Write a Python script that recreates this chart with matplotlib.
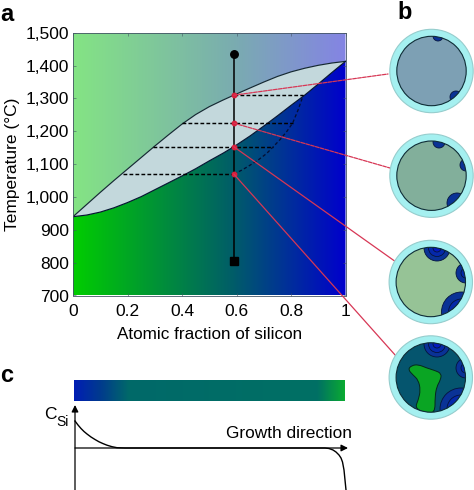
import numpy as np
import matplotlib
matplotlib.use("Agg")
import matplotlib.pyplot as plt
from matplotlib.colors import LinearSegmentedColormap as LSC
from matplotlib.patches import Circle, Polygon, ConnectionPatch, PathPatch
from matplotlib.path import Path

plt.rcParams['font.family'] = ['Liberation Sans', 'DejaVu Sans']
W, H = 474, 490

# Phase diagram
upper_x = [0, 0.05, 0.1, 0.15, 0.2, 0.25, 0.3, 0.35, 0.40, 0.45, 0.5, 0.55, 0.59, 0.65, 0.7, 0.75, 0.8, 0.85, 0.9, 0.95, 1.0]
upper_t = [940, 977, 1014, 1050, 1085, 1120, 1155, 1189, 1222, 1251, 1275, 1295, 1310, 1332, 1350, 1367, 1381, 1392, 1401, 1408, 1413]
lower_x = [0, 0.05, 0.1, 0.15, 0.2, 0.25, 0.3, 0.35, 0.4, 0.45, 0.5, 0.55, 0.59, 0.65, 0.7, 0.75, 0.8, 0.85, 0.9, 0.95, 1.0]
lower_t = [940, 945, 954, 967, 983, 1001, 1022, 1043, 1064, 1086, 1110, 1133, 1153, 1186, 1216, 1247, 1279, 1310, 1344, 1379, 1413]
avg_x = [0.59, 0.62, 0.65, 0.68, 0.71, 0.735, 0.76, 0.785, 0.806, 0.826, 0.845]
avg_t = [1070, 1082, 1097, 1113, 1132, 1153, 1175, 1200, 1225, 1265, 1310]
tie_t = [1310, 1225, 1153, 1070]
tie_x0 = [0.59, 0.40, 0.295, 0.185]
tie_x1 = [0.845, 0.806, 0.735, 0.59]
alloy_x = 0.59
start_t, end_t = 1435, 805
xticks = [0, 0.2, 0.4, 0.6, 0.8, 1]
xlabels = ['0', '0.2', '0.4', '0.6', '0.8', '1']
yticks = [700, 800, 900, 1000, 1100, 1200, 1300, 1400, 1500]
ylabels = ['700', '800', '900', '1,000', '1,100', '1,200', '1,300', '1,400', '1,500']

def c(*rgb):
    return tuple(v / 255 for v in rgb)

cm_solid = LSC.from_list('s', [(0, c(0, 205, 0)), (0.59, c(0, 92, 105)), (1, c(0, 0, 205))])
cm_liquid = LSC.from_list('l', [(0, c(132, 228, 132)), (0.59, c(122, 172, 176)), (1, c(132, 132, 228))])
cm_bar = LSC.from_list('b', [(0, c(0, 30, 180)), (0.1, c(0, 60, 140)), (0.2, c(0, 105, 105)),
                             (0.9, c(0, 112, 100)), (1, c(10, 170, 50))])
grad = np.linspace(0, 1, 256)[None, :]

fig = plt.figure(figsize=(W / 100, H / 100), dpi=100, facecolor='white')
ax = fig.add_axes([73 / W, 1 - 295.5 / H, 272.5 / W, 262.7 / H])
ax.set_xlim(0, 1)
ax.set_ylim(700, 1500)
ext = (0, 1, 700, 1500)

ux = np.array(upper_x); ut = np.array(upper_t)
lx = np.array(lower_x); lt = np.array(lower_t)
im_l = ax.imshow(grad, cmap=cm_liquid, extent=ext, aspect='auto', zorder=1)
im_s = ax.imshow(grad, cmap=cm_solid, extent=ext, aspect='auto', zorder=1)
poly_l = Polygon(np.r_[np.c_[ux, ut], [[1, 1500], [0, 1500]]], closed=True, transform=ax.transData, fc='none', ec='none')
poly_s = Polygon(np.r_[np.c_[lx, lt], [[1, 700], [0, 700]]], closed=True, transform=ax.transData, fc='none', ec='none')
ax.add_patch(poly_l); ax.add_patch(poly_s)
im_l.set_clip_path(poly_l); im_s.set_clip_path(poly_s)
ax.fill(np.r_[ux, lx[::-1]], np.r_[ut, lt[::-1]], color=c(195, 216, 220), lw=0, zorder=1.5)
ax.plot(ux, ut, color=c(20, 40, 50), lw=0.85, zorder=2)
ax.plot(lx, lt, color=c(5, 20, 50), lw=0.85, zorder=2)
ax.plot(avg_x, avg_t, color=c(5, 15, 50), lw=0.95, ls=(0, (2.5, 1.8)), zorder=2)
for t, a, b in zip(tie_t, tie_x0, tie_x1):
    ax.plot([a, b], [t, t], color='black', lw=1.05, ls=(0, (2.6, 1.5)), zorder=3)
ax.plot([alloy_x, alloy_x], [start_t, end_t], color='black', lw=1.1, zorder=4)
ax.plot([alloy_x], [start_t], 'o', color='black', ms=5.4, zorder=5)
ax.plot([alloy_x], [end_t], 's', color='black', ms=5.4, zorder=5)
ax.plot([alloy_x] * 4, tie_t, 'o', color=c(215, 30, 60), ms=3.2, zorder=6)
ax.set_xticks(xticks, xlabels)
ax.set_yticks(yticks, ylabels)
ax.tick_params(direction='in', length=2, width=0.4, labelsize=12.5, top=True, right=True, color='#445566')
ax.tick_params(axis='x', pad=6)
ax.tick_params(axis='y', pad=3)
ax.set_xlabel('Atomic fraction of silicon', fontsize=12.3, labelpad=6)
ax.set_ylabel('Temperature (°C)', fontsize=12.5, labelpad=4)
for s in ax.spines.values():
    s.set_linewidth(0.6); s.set_color('#445566')

# Overlay in pixel coordinates for the schematic parts
ov = fig.add_axes([0, 0, 1, 1], zorder=5)
ov.set_xlim(0, W); ov.set_ylim(H, 0); ov.axis('off'); ov.patch.set_alpha(0)

ov.text(0, 21, 'a', fontsize=17, fontweight='bold', va='baseline')
ov.text(397, 19, 'b', fontsize=17, fontweight='bold', va='baseline')
ov.text(0, 382, 'c', fontsize=17, fontweight='bold', va='baseline')

centers = [(431.5, 71), (431.5, 175.7), (430.8, 282), (430.8, 377.5)]
fills = [c(125, 160, 180), c(130, 175, 155), c(150, 195, 150), c(5, 85, 110)]
targets = [(388, 74), (390, 168), (396, 262), (396, 356)]
styles = [(0, (3, 1)), (0, (3, 1)), '-', '-']

# blobs: centre x, y, nested radii
blobs = [
    [(438, 36, [5]), (456, 97, [6])],
    [(439, 142, [6]), (466, 165, [6]), (457, 203, [10])],
    [(437, 248, [13, 8.5, 4]), (466, 273, [10, 5]), (461.5, 312, [20, 13, 6])],
    [(437, 344, [13, 8.5, 4]), (466, 368, [10, 5]), (461, 409, [21, 14, 7])],
]
blob_cols = [c(10, 50, 150), c(5, 40, 170), c(5, 25, 190)]
green_blob = [(408, 369.5), (411.5, 365.5), (418.3, 364.5), (426.7, 368), (435, 370.5), (441.5, 373.5), (440.5, 380),
              (436.7, 386.7), (435, 396.7), (435, 413), (425, 413), (415, 408), (418.3, 400), (420.5, 390), (418.3, 380), (413, 375)]

def smooth_closed(pts):
    pts = np.asarray(pts)
    mids = (pts + np.roll(pts, -1, axis=0)) / 2
    verts = [mids[-1]]
    codes = [Path.MOVETO]
    for p, m in zip(pts, mids):
        verts += [p, m]
        codes += [Path.CURVE3, Path.CURVE3]
    return Path(verts, codes)

for i, (cen, f) in enumerate(zip(centers, fills)):
    ov.add_patch(Circle(cen, 41.7, fc=c(165, 240, 240), ec=c(150, 205, 205), lw=0.8, zorder=2))
    ov.add_patch(Circle(cen, 34.7, fc=f, ec='none', zorder=3))
    clip = Circle(cen, 34.7, transform=ov.transData)
    for (bx, by, radii) in blobs[i]:
        for j, r in enumerate(radii):
            p = Circle((bx, by), r, fc=blob_cols[j], ec=c(5, 20, 60), lw=0.6, zorder=4 + j)
            ov.add_patch(p)
            p.set_clip_path(clip)
    if i == 3:
        g = PathPatch(smooth_closed(green_blob), fc=c(10, 165, 35), ec=c(5, 40, 30), lw=0.7, zorder=4)
        ov.add_patch(g)
        g.set_clip_path(clip)
    ov.add_patch(Circle(cen, 34.7, fc='none', ec=c(15, 45, 55), lw=0.8, zorder=9))
    con = ConnectionPatch((alloy_x, tie_t[i]), targets[i], coordsA=ax.transData, coordsB=ov.transData,
                          color=c(215, 55, 85), lw=0.9, ls=styles[i], zorder=1)
    ov.add_artist(con)

# Panel c
ov.imshow(grad, cmap=cm_bar, extent=(74.5, 345.5, 401.3, 380.7), aspect='auto', zorder=2)
ov.set_xlim(0, W); ov.set_ylim(H, 0)
curve_x = [75, 78, 81, 84, 87, 91, 95, 99, 103, 107, 112, 117, 125, 150, 250, 325, 329, 333, 336, 339, 341, 342.5, 344, 345, 346]
curve_y = [421, 425, 428.5, 431.5, 434, 437, 439.5, 441.8, 443.6, 445.2, 446.7, 447.7, 448, 448, 448, 448, 448.5, 450, 452, 455, 458, 462, 470, 480, 490]
ov.plot(curve_x, curve_y, color='black', lw=1.0, zorder=3)
arrow = dict(arrowstyle='-|>', color='black', lw=0.9, shrinkA=0, shrinkB=0, mutation_scale=10)
ov.annotate('', xy=(75, 405), xytext=(75, 490), arrowprops=arrow)
ov.annotate('', xy=(348, 448), xytext=(75, 448), arrowprops=arrow)
ov.text(352, 438, 'Growth direction', fontsize=12.4, ha='right', va='baseline')
ov.text(44, 419, 'C', fontsize=12.5, ha='left', va='baseline')
ov.text(56, 425.5, 'Si', fontsize=10, ha='left', va='baseline')

fig.savefig('out.png', dpi=100)
